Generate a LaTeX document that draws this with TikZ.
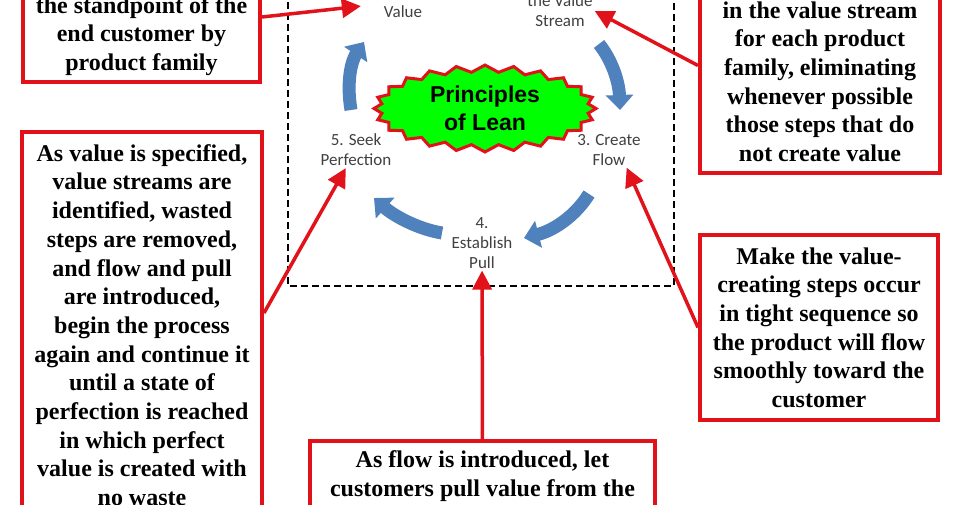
\documentclass[tikz,border=0pt]{standalone}
\usepackage{fontspec}
\setmainfont{Liberation Serif}
\newfontfamily\headfont{Liberation Sans}
\newfontfamily\stepfont{Carlito}
\usetikzlibrary{arrows.meta,shapes.symbols}
\definecolor{LeanRed}{RGB}{226,18,26}
\definecolor{LeanBlue}{HTML}{4F81BD}
\definecolor{LeanGreen}{RGB}{0,255,0}
\definecolor{StepGray}{HTML}{404040}

\begin{document}
\begin{tikzpicture}[x=1pt,y=-1pt,
note/.style={draw=LeanRed,line width=4pt,fill=white,align=center,inner sep=0pt,font=\fontsize{24}{28.67}\selectfont\bfseries},
steplabel/.style={align=center,inner sep=2pt,text=StepGray,font=\stepfont\fontsize{17}{19.8}\selectfont},
burst/.style={starburst,starburst points=24,starburst point height=7pt,random starburst=0,fill=LeanGreen,draw=LeanRed,line width=3pt,minimum width=222pt,minimum height=84pt,align=center,font=\headfont\bfseries\fontsize{23}{28}\selectfont},
pointer/.style={-{Triangle[length=19pt,width=19pt]},line width=3.5pt,LeanRed},
cycle/.style={-{Triangle[length=15pt,width=27pt]},line width=13pt,LeanBlue},
frame/.style={draw=black,line width=2.6pt,dash pattern=on 7pt off 4pt}]
\useasboundingbox (0,0) rectangle (960,504);
\fill[white] (0,0) rectangle (960,504);
% the cycle
\draw[frame] (288,-20) rectangle (674,286);
\node[burst] (lean) at (485,108.5) {Principles\\of Lean};
\node[steplabel] (value) at (403,12) {Value};
\node[steplabel] (stream) at (560,11) {the Value\\Stream};
\node[steplabel] (create) at (609,150) {3. Create\\Flow};
\node[steplabel] (establish) at (482,243) {4.\\Establish\\Pull};
\node[steplabel] (seek) at (356,150) {5. Seek\\Perfection};
\draw[cycle] (351,110) .. controls (346,80) and (352,60) .. (364,42);
\draw[cycle] (599,44) .. controls (612,60) and (619,82) .. (620,110);
\draw[cycle] (589,194) .. controls (576,215) and (555,230) .. (524,238);
\draw[cycle] (442,233) .. controls (418,229) and (394,216) .. (374,198);
% notes
\node[note,minimum width=237pt,minimum height=92pt] (specify) at (141.5,36) {the standpoint of the\\end customer by\\product family};
\node[note,minimum width=240pt,minimum height=183pt] (identify) at (820,81.5) {in the value stream\\for each product\\family, eliminating\\whenever possible\\those steps that do\\not create value};
\node[note,minimum width=238pt,minimum height=185pt] (flow) at (819,327.5) {Make the value-\\creating steps occur\\in tight sequence so\\the product will flow\\smoothly toward the\\customer};
\node[note,minimum width=345pt,minimum height=70pt] (pull) at (482.5,476) {As flow is introduced, let\\customers pull value from the};
\node[note,minimum width=240pt,minimum height=386pt] (perfect) at (142,325) {As value is specified,\\value streams are\\identified, wasted\\steps are removed,\\and flow and pull\\are introduced,\\begin the process\\again and continue it\\until a state of\\perfection is reached\\in which perfect\\value is created with\\no waste};
\draw[pointer,shorten >=21pt] ([yshift=19pt]specify.east) -- (value.north west);
\draw[pointer] ([yshift=16pt]identify.west) -- (stream.east);
\draw[pointer] ([yshift=12pt]perfect.east) -- (seek);
\draw[pointer] (flow.west) -- (create.-45);
\draw[pointer] (pull) -- (establish);
\end{tikzpicture}
\end{document}
